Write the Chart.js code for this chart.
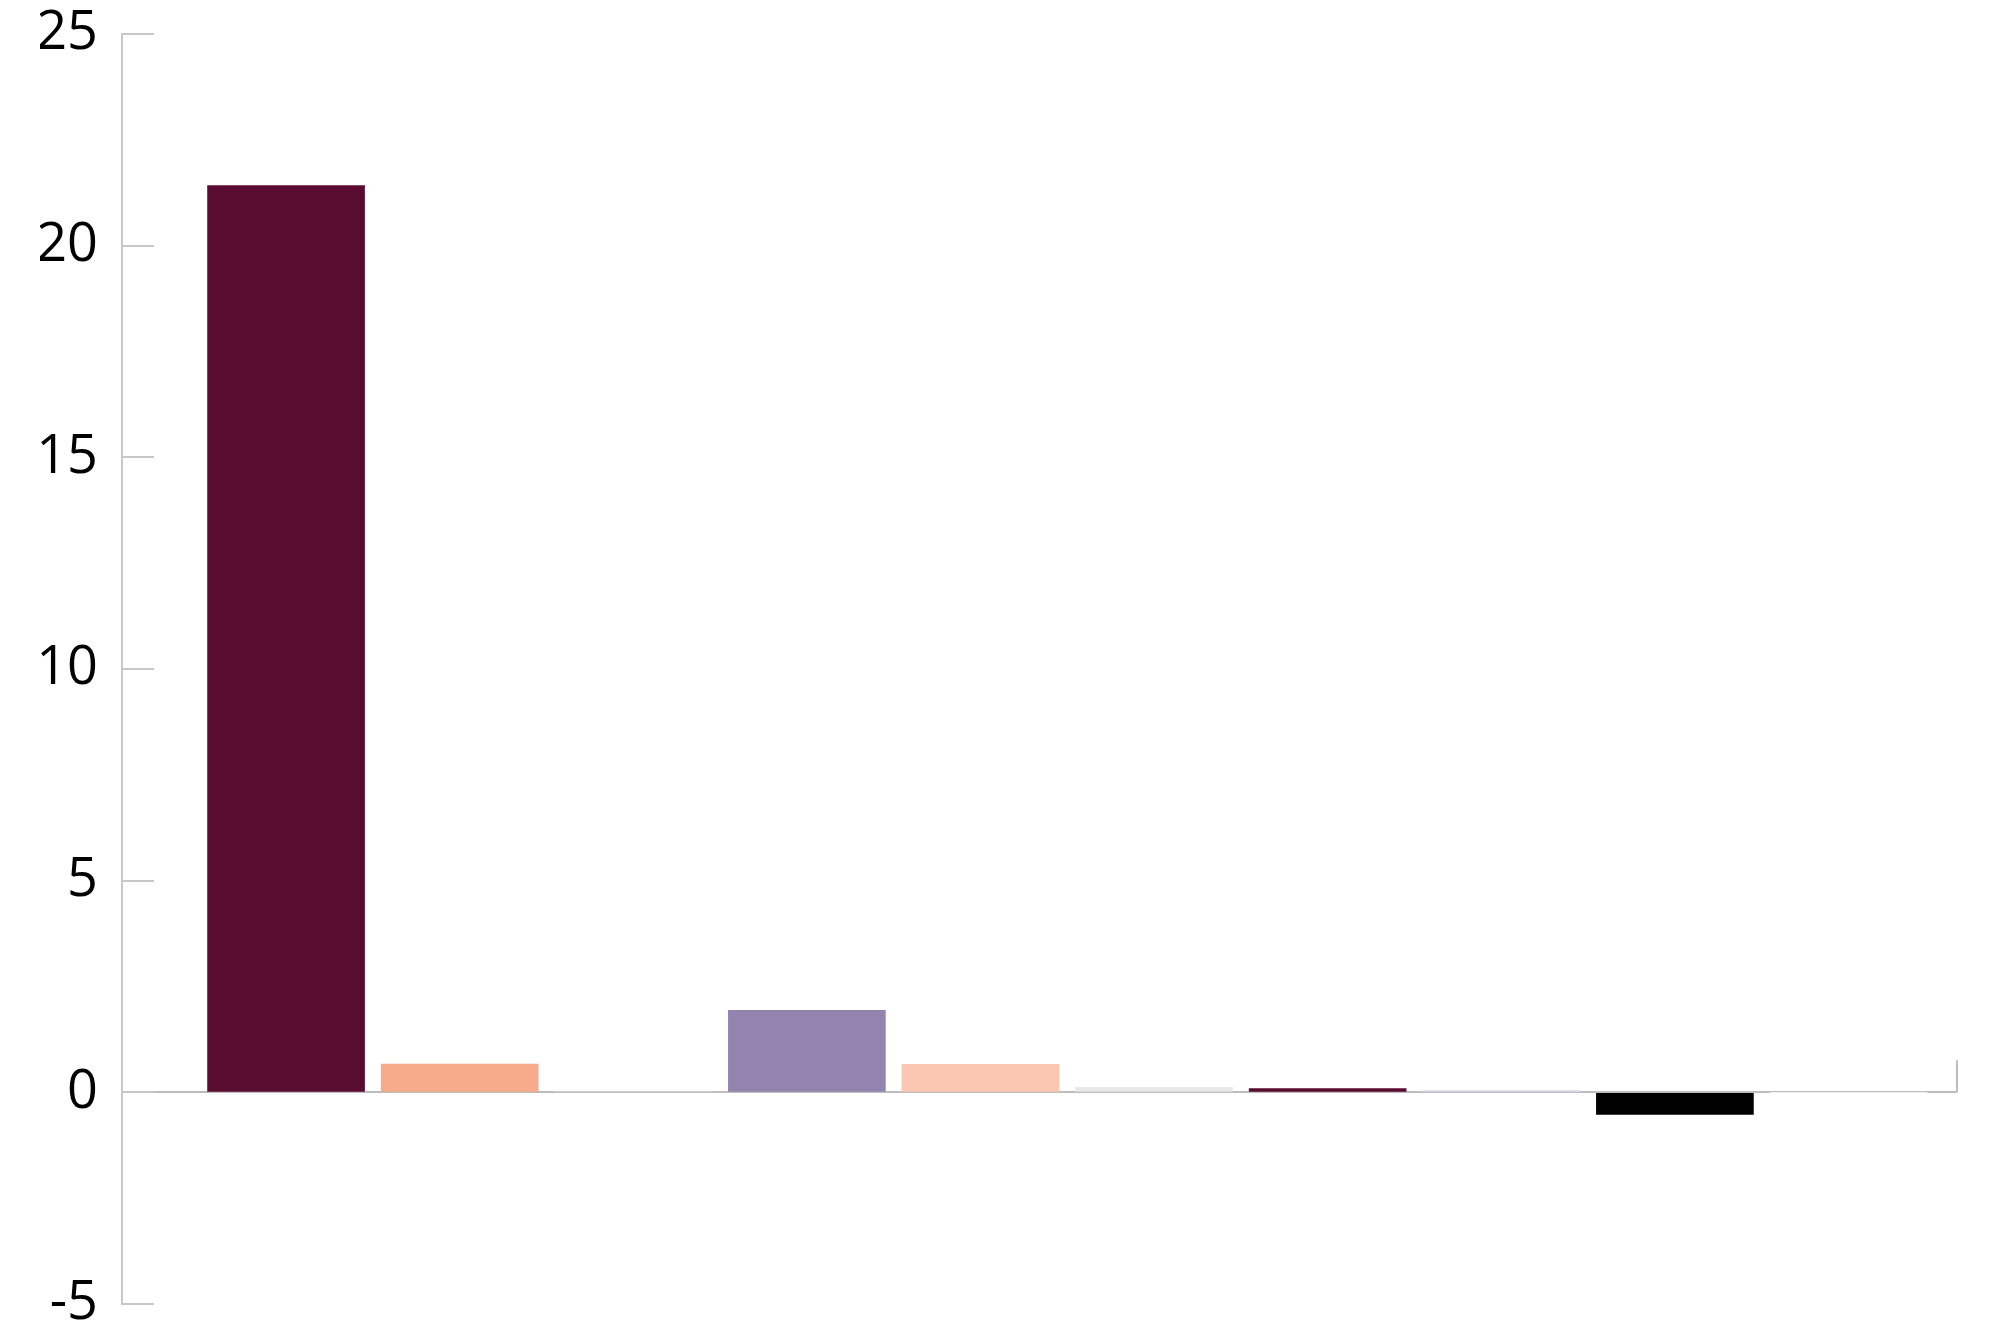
<!DOCTYPE html>
<html>
<head>
<meta charset="utf-8">
<script src="https://cdn.jsdelivr.net/npm/chart.js@4"></script>
<style>
  html, body { margin: 0; padding: 0; background: #fff; }
  #wrap { width: 2000px; height: 1341px; position: relative; }
</style>
</head>
<body>
<div id="wrap"><canvas id="chart"></canvas></div>
<script>
'use strict';

// ─── Data ─────────────────────────────────────────────────────────────────────

const categories = ['A', 'B', 'C', 'D', 'E', 'F', 'G', 'H', 'I', 'J'];
const values = [21.42, 0.67, 0.02, 1.94, 0.66, 0.12, 0.09, 0.05, -0.52, 0];
const barColors = [
  '#5a0c30', '#f8ab8a', '#d9d9d9', '#9483af', '#fac8b0',
  '#e8e8e8', '#5a0c30', '#e6def0', '#000000', '#ffffff',
];
const yTicks = [-5, 0, 5, 10, 15, 20, 25];

// ─── Right end tick on the zero line ─────────────────────────────────────────

const endTick = {
  id: 'endTick',
  afterDraw(chart) {
    const { ctx, chartArea, scales } = chart;
    const y0 = scales.y.getPixelForValue(0);
    ctx.save();
    ctx.strokeStyle = '#bdbdbd';
    ctx.lineWidth = 2;
    ctx.beginPath();
    ctx.moveTo(chartArea.right, y0);
    ctx.lineTo(chartArea.right, y0 - 32);
    ctx.stroke();
    ctx.restore();
  },
};

// ─── Chart ────────────────────────────────────────────────────────────────────

new Chart(document.getElementById('chart'), {
  type: 'bar',
  data: {
    datasets: [
      {
        data: values.map((v, i) => ({ x: i + 1, y: v })),
        backgroundColor: barColors,
        borderWidth: 0,
        barThickness: 157,
      },
    ],
  },
  plugins: [endTick],
  options: {
    responsive: true,
    maintainAspectRatio: false,
    animation: false,
    layout: { padding: { left: 40, right: 43, top: 34, bottom: 37 } },
    plugins: { legend: { display: false }, tooltip: { enabled: false } },
    scales: {
      x: {
        type: 'linear',
        min: 0.055,
        max: 10.625,
        offset: false,
        display: false,
      },
      y: {
        min: -5,
        max: 25,
        afterBuildTicks: (axis) => {
          axis.ticks = yTicks.map((v) => ({ value: v }));
        },
        afterFit: (s) => {
          s.width = 82;
          s.paddingTop = 0;
          s.paddingBottom = 0;
        },
        border: { display: true, color: '#c8c8c8', width: 2 },
        grid: {
          color: (c) => (c.tick && c.tick.value === 0 ? '#bdbdbd' : 'rgba(0,0,0,0)'),
          tickColor: '#c8c8c8',
          lineWidth: 2,
          tickLength: -32,
          drawTicks: true,
        },
        ticks: {
          color: '#000',
          padding: 56,
          font: { family: "'Open Sans', sans-serif", size: 54 },
        },
      },
    },
  },
});
</script>
</body>
</html>
